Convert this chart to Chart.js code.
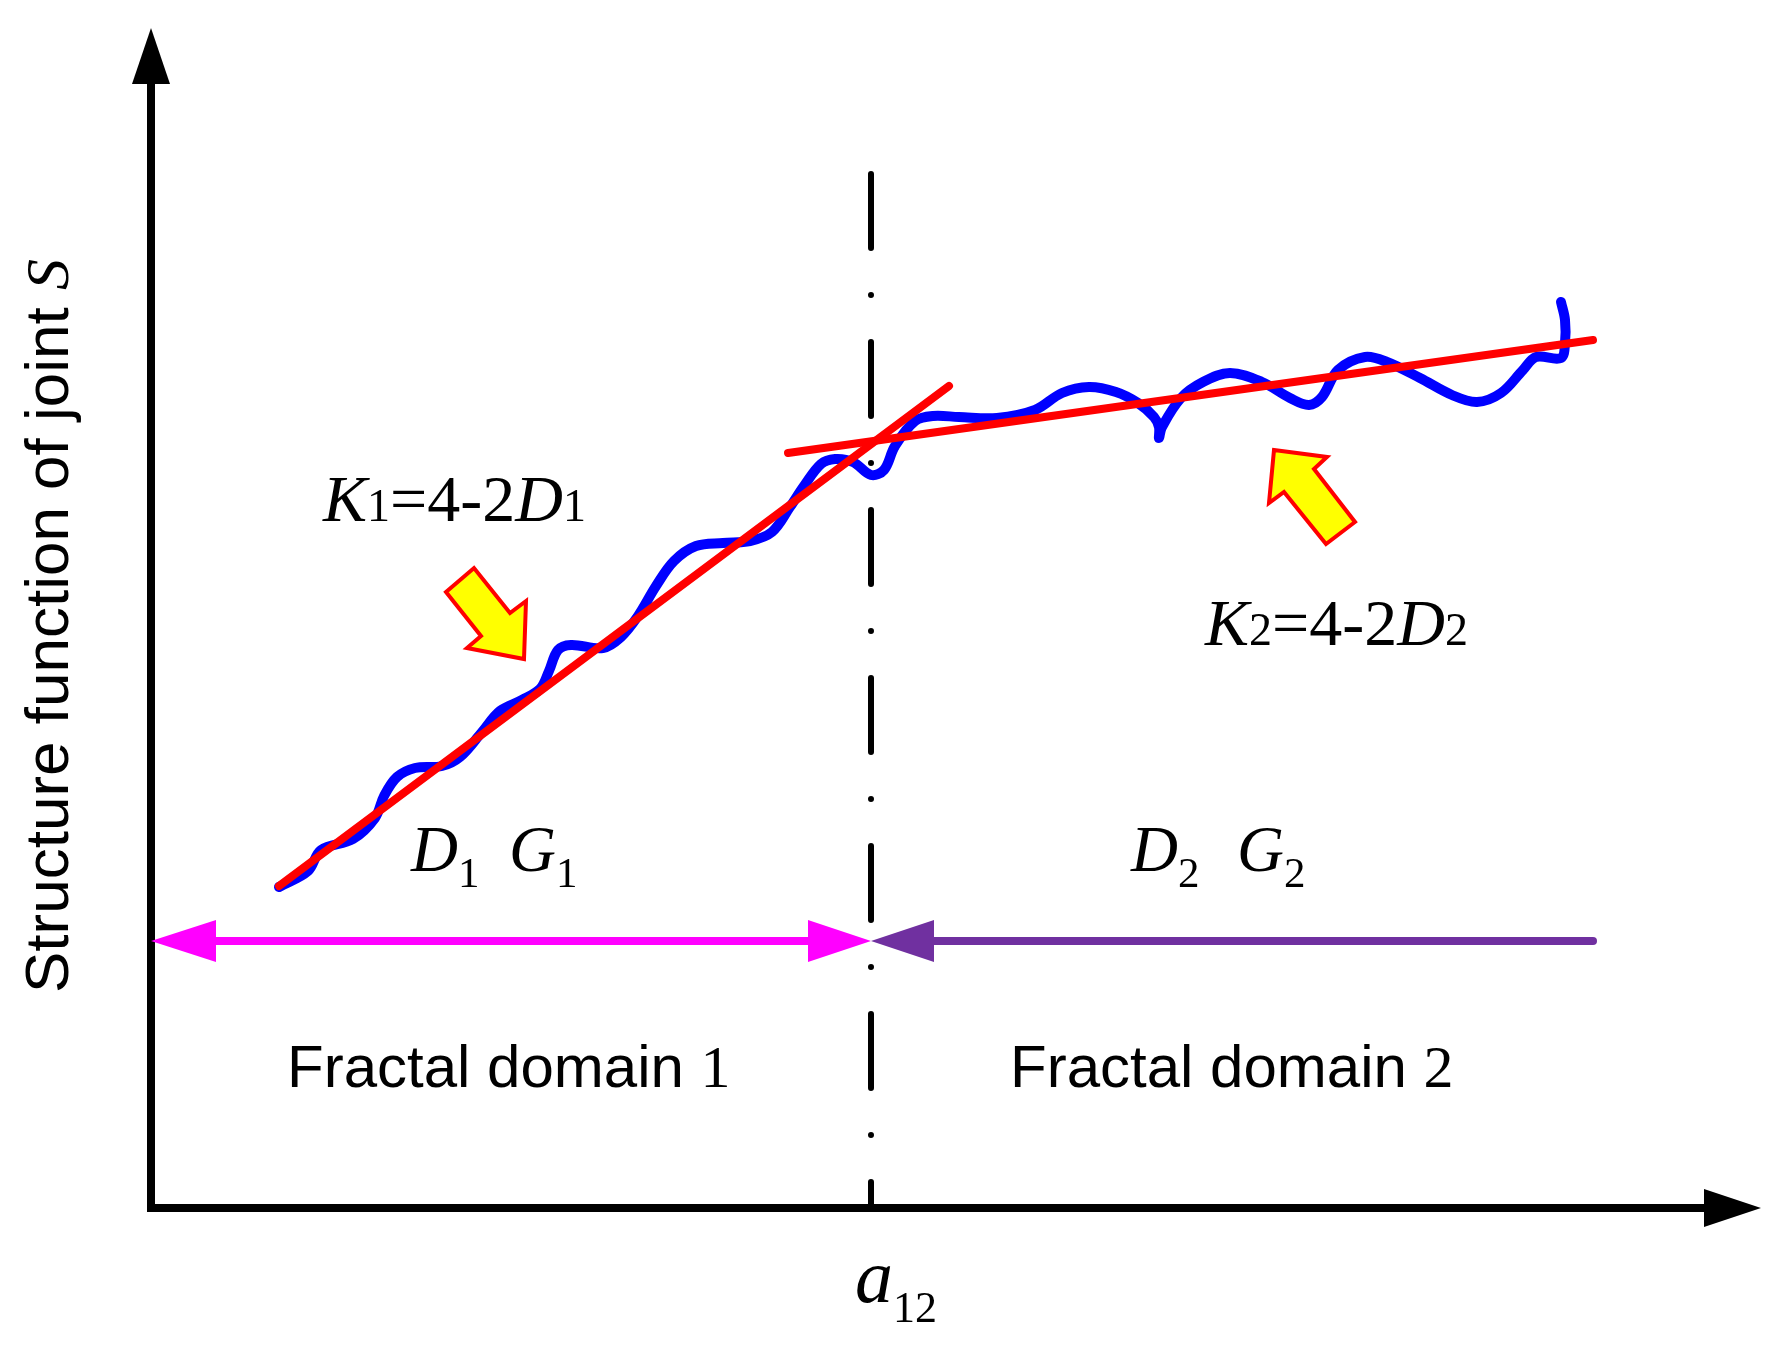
<!DOCTYPE html>
<html>
<head>
<meta charset="utf-8">
<script src="https://cdn.jsdelivr.net/npm/chart.js@4.4.1/dist/chart.umd.min.js"></script>
<style>
html, body { margin: 0; padding: 0; background: #fff; }
#wrap { width: 1784px; height: 1348px; }
</style>
</head>
<body>
<div id="wrap"><canvas id="chart" width="1784" height="1348"></canvas></div>
<script>
// structure function of the joint (arbitrary units)
var curveX = [12.8, 15.7, 17.0, 20.2, 22.4, 23.3, 24.6, 26.4, 29.1, 30.9, 33.1, 34.9, 37.1, 38.9,
  39.8, 40.7, 42.0, 45.2, 47.0, 48.7, 50.5, 52.3, 54.5, 57.2, 59.9, 62.1, 63.9, 65.3, 67.0, 68.4,
  70.2, 72.0, 73.3, 74.4, 76.4, 78.2, 80.8, 84.6, 88.4, 91.1, 93.8, 96.5, 98.7, 100.3, 100.8, 100.8,
  101.1, 103.0, 105.2, 107.9, 111.1, 113.9, 115.8, 117.1, 118.7, 121.4, 123.6, 126.9, 130.1, 132.6,
  135.0, 137.2, 138.5, 141.0, 141.4, 141.4, 141.0];
var curveY = [32.1, 33.7, 35.8, 36.9, 39.0, 41.2, 43.1, 44.0, 44.2, 45.1, 47.6, 49.7, 50.8, 51.9,
  53.7, 55.8, 56.3, 56.0, 57.1, 59.2, 62.2, 64.7, 66.2, 66.5, 66.7, 67.6, 70.1, 72.2, 74.4, 74.9,
  74.6, 73.3, 73.8, 76.2, 78.7, 79.2, 79.1, 79.0, 79.8, 81.5, 82.1, 81.6, 80.5, 79.1, 78.1, 77.0,
  78.1, 81.0, 82.6, 83.5, 82.6, 81.0, 80.3, 81.1, 83.8, 85.1, 84.6, 83.0, 81.3, 80.6,
  81.5, 83.8, 85.1, 85.0, 86.5, 88.8, 90.6];

// fitted lines of the two fractal domains
var fit1X = [12.8, 79.8];
var fit1Y = [32.2, 82.2];
var fit2X = [63.7, 144.2];
var fit2Y = [75.5, 86.8];

// crossover a12 and the domain arrows
var crossX = 72.0;
var crossTop = 103.4;
var domainY = 26.7;
var domainStart = 0;
var domainEnd = 144.2;

var axisMaxX = 161;
var axisMaxY = 118;

// block arrows pointing at the two slopes
var arrow1X = [29.5, 32.3, 35.9, 37.5, 37.3, 31.6, 33.0];
var arrow1Y = [61.6, 64.0, 59.5, 60.7, 54.9, 56.0, 57.2];
var arrow2X = [112.3, 117.6, 116.3, 120.4, 117.5, 113.3, 111.8];
var arrow2Y = [75.8, 75.1, 73.9, 68.6, 66.4, 71.6, 70.5];

var SERIF = '"Liberation Serif", "Times New Roman", serif';
var SANS = '"Liberation Sans", Arial, sans-serif';

// text pieces: [text, font, baseline shift]
var labels = [
  { x: 17.2, y: 68.7, runs: [['K', 'italic 66px ' + SERIF], ['1', '46px ' + SERIF], ['=4-2', '66px ' + SERIF], ['D', 'italic 66px ' + SERIF], ['1', '46px ' + SERIF]] },
  { x: 105.4, y: 56.3, runs: [['K', 'italic 66px ' + SERIF], ['2', '46px ' + SERIF], ['=4-2', '66px ' + SERIF], ['D', 'italic 66px ' + SERIF], ['2', '46px ' + SERIF]] },
  { x: 26.0, y: 33.7, runs: [['D', 'italic 65px ' + SERIF], ['1', '43px ' + SERIF, 16]] },
  { x: 35.8, y: 33.7, runs: [['G', 'italic 65px ' + SERIF], ['1', '43px ' + SERIF, 16]] },
  { x: 98.0, y: 33.7, runs: [['D', 'italic 65px ' + SERIF], ['2', '43px ' + SERIF, 16]] },
  { x: 108.6, y: 33.7, runs: [['G', 'italic 65px ' + SERIF], ['2', '43px ' + SERIF, 16]] },
  { x: 13.6, y: 12.1, runs: [['Fractal domain ', '60px ' + SANS], ['1', '60px ' + SERIF]] },
  { x: 85.9, y: 12.1, runs: [['Fractal domain ', '60px ' + SANS], ['2', '60px ' + SERIF]] },
  { x: 70.4, y: -9.4, runs: [['a', 'italic 76px ' + SERIF], ['12', '44px ' + SERIF, 20]] }
];
var yTitle = { x: -8.3, y: 58.2, runs: [['Structure function of joint ', '62px ' + SANS], ['S', 'italic 62px ' + SERIF]] };

function pts(xs, ys) {
  return xs.map(function (x, i) { return { x: x, y: ys[i] }; });
}

function drawRuns(ctx, runs, x, y, center) {
  var w = 0;
  runs.forEach(function (r) { ctx.font = r[1]; w += ctx.measureText(r[0]).width; });
  var cx = center ? x - w / 2 : x;
  runs.forEach(function (r) {
    ctx.font = r[1];
    ctx.fillText(r[0], cx, y + (r[2] || 0));
    cx += ctx.measureText(r[0]).width;
  });
}

function head(ctx, tx, ty, dx, dy, len, half, color) {
  // dx,dy: unit direction the head points to
  var bx = tx - dx * len, by = ty - dy * len;
  ctx.beginPath();
  ctx.moveTo(tx, ty);
  ctx.lineTo(bx - dy * half, by + dx * half);
  ctx.lineTo(bx + dy * half, by - dx * half);
  ctx.closePath();
  ctx.fillStyle = color;
  ctx.fill();
}

var decor = {
  id: 'decor',
  beforeDatasetsDraw: function (chart) {
    var ctx = chart.ctx, sx = chart.scales.x, sy = chart.scales.y;
    var x0 = sx.getPixelForValue(0), y0 = sy.getPixelForValue(0);
    var xt = sx.getPixelForValue(axisMaxX), yt = sy.getPixelForValue(axisMaxY);
    ctx.save();
    ctx.strokeStyle = '#000';
    ctx.lineWidth = 8;
    ctx.lineCap = 'butt';
    ctx.beginPath();
    ctx.moveTo(x0, y0 + 4);
    ctx.lineTo(x0, yt + 50);
    ctx.moveTo(x0 - 4, y0);
    ctx.lineTo(xt - 50, y0);
    ctx.stroke();
    head(ctx, x0, yt, 0, -1, 56, 19, '#000');
    head(ctx, xt, y0, 1, 0, 57, 19, '#000');
    ctx.restore();
  },
  afterDatasetsDraw: function (chart) {
    var ctx = chart.ctx, sx = chart.scales.x, sy = chart.scales.y;
    ctx.save();
    var dy = sy.getPixelForValue(domainY);
    var xc = sx.getPixelForValue(crossX);
    head(ctx, sx.getPixelForValue(domainStart), dy, -1, 0, 65, 21, '#FF00FF');
    head(ctx, xc, dy, 1, 0, 63, 21, '#FF00FF');
    head(ctx, xc, dy, -1, 0, 63, 21, '#7030A0');

    [[arrow1X, arrow1Y], [arrow2X, arrow2Y]].forEach(function (a) {
      ctx.beginPath();
      a[0].forEach(function (x, i) {
        var px = sx.getPixelForValue(x), py = sy.getPixelForValue(a[1][i]);
        if (i === 0) ctx.moveTo(px, py); else ctx.lineTo(px, py);
      });
      ctx.closePath();
      ctx.fillStyle = '#FFFF00';
      ctx.fill();
      ctx.lineWidth = 4;
      ctx.lineJoin = 'miter';
      ctx.strokeStyle = '#FF0000';
      ctx.stroke();
    });

    ctx.fillStyle = '#000';
    ctx.textBaseline = 'alphabetic';
    ctx.textAlign = 'left';
    labels.forEach(function (l) {
      drawRuns(ctx, l.runs, sx.getPixelForValue(l.x), sy.getPixelForValue(l.y), false);
    });

    ctx.translate(sx.getPixelForValue(yTitle.x), sy.getPixelForValue(yTitle.y));
    ctx.rotate(-Math.PI / 2);
    drawRuns(ctx, yTitle.runs, 0, 0, true);
    ctx.restore();
  }
};

var ctx = document.getElementById('chart').getContext('2d');
var chart = new Chart(ctx, {
  type: 'scatter',
  data: {
    datasets: [{
      label: 'Fit domain 1',
      data: pts(fit1X, fit1Y),
      showLine: true, borderColor: '#FF0000', borderWidth: 8, borderCapStyle: 'round',
      order: 1
    }, {
      label: 'Fit domain 2',
      data: pts(fit2X, fit2Y),
      showLine: true, borderColor: '#FF0000', borderWidth: 8, borderCapStyle: 'round',
      order: 1
    }, {
      label: 'Structure function',
      data: pts(curveX, curveY),
      showLine: true, borderColor: '#0000FF', borderWidth: 10, tension: 0.35,
      borderCapStyle: 'round', borderJoinStyle: 'round',
      order: 2
    }, {
      label: 'Domain 1',
      data: pts([domainStart + 3, crossX - 3], [domainY, domainY]),
      showLine: true, borderColor: '#FF00FF', borderWidth: 8,
      order: 3
    }, {
      label: 'Domain 2',
      data: pts([crossX + 3, domainEnd], [domainY, domainY]),
      showLine: true, borderColor: '#7030A0', borderWidth: 8, borderCapStyle: 'round',
      order: 3
    }, {
      label: 'a12',
      data: pts([crossX, crossX], [crossTop, 0]),
      showLine: true, borderColor: '#000', borderWidth: 6, borderCapStyle: 'round',
      borderDash: [74, 47, 0.01, 47],
      order: 4
    }]
  },
  options: {
    responsive: false,
    animation: false,
    devicePixelRatio: 1,
    layout: { padding: { left: 151, right: 23, top: 28, bottom: 140 } },
    elements: { point: { radius: 0, hoverRadius: 0 } },
    plugins: { legend: { display: false }, tooltip: { enabled: false } },
    scales: {
      x: { type: 'linear', min: 0, max: axisMaxX, display: false },
      y: { type: 'linear', min: 0, max: axisMaxY, display: false }
    }
  },
  plugins: [decor]
});
</script>
</body>
</html>
